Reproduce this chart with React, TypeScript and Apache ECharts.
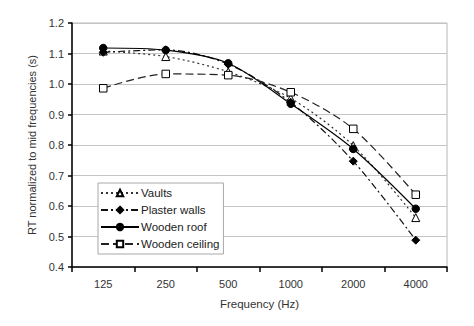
import React, { useEffect, useRef } from "react";
import * as echarts from "echarts";

const categories = ["125", "250", "500", "1000", "2000", "4000"];
const vaults = [1.108, 1.09, 1.04, 0.953, 0.798, 0.562];
const plasterWalls = [1.104, 1.112, 1.065, 0.94, 0.747, 0.488];
const woodenRoof = [1.118, 1.111, 1.068, 0.935, 0.787, 0.591];
const woodenCeiling = [0.986, 1.033, 1.029, 0.973, 0.853, 0.637];

const FONT = "Liberation Sans, Arial, sans-serif";

export default function App() {
  const ref = useRef<HTMLDivElement>(null);
  useEffect(() => {
    if (!ref.current) return;
    const chart = echarts.init(ref.current, undefined, { renderer: "svg" });
    const mk = (name: string, data: number[], symbol: string, fill: string, lineType: any, color: string, width: number) => ({
      name,
      type: "line",
      data,
      smooth: 0.3,
      symbol,
      symbolSize: symbol === "diamond" ? 8 : symbol === "triangle" ? 8 : 7.5,
      itemStyle: { color: fill, borderColor: "#000", borderWidth: 1 },
      lineStyle: { color, width, type: lineType },
      emphasis: { disabled: true },
    });
    chart.setOption({
      animation: false,
      textStyle: { fontFamily: FONT },
      grid: {
        left: 72,
        right: 27,
        top: 23,
        bottom: 59,
        show: true,
        borderColor: "#b8b8b8",
        borderWidth: 1,
      },
      legend: {
        orient: "vertical",
        left: 98,
        top: 183,
        padding: [4, 4, 4, 2],
        itemGap: 5,
        itemWidth: 38,
        itemHeight: 8,
        backgroundColor: "#fff",
        borderColor: "#a8a8a8",
        borderWidth: 1,
        borderRadius: 0,
        textStyle: { fontFamily: FONT, fontSize: 11.5, color: "#222", padding: [0, 0, 0, -3] },
        data: ["Vaults", "Plaster walls", "Wooden roof", "Wooden ceiling"],
      },
      xAxis: {
        type: "category",
        data: categories,
        boundaryGap: true,
        name: "Frequency (Hz)",
        nameLocation: "middle",
        nameGap: 31,
        nameTextStyle: { fontFamily: FONT, fontSize: 11.5, color: "#333" },
        axisLine: { lineStyle: { color: "#000", width: 1.5 } },
        axisTick: { show: true, inside: false, length: 5, lineStyle: { color: "#000", width: 1.5 } },
        axisLabel: { fontFamily: FONT, fontSize: 11, color: "#333", margin: 11 },
        splitLine: { show: false },
      },
      yAxis: {
        type: "value",
        min: 0.4,
        max: 1.2,
        interval: 0.1,
        name: "RT normalized to mid frequencies (s)",
        nameLocation: "middle",
        nameGap: 34,
        nameTextStyle: { fontFamily: FONT, fontSize: 11, color: "#333" },
        axisLine: { show: true, lineStyle: { color: "#000", width: 1.5 } },
        axisTick: { show: true, inside: false, length: 4, lineStyle: { color: "#000", width: 1.5 } },
        axisLabel: {
          fontFamily: FONT,
          fontSize: 11,
          color: "#333",
          margin: 8,
          formatter: (v: number) => v.toFixed(1),
        },
        splitLine: { show: true, lineStyle: { color: "#c4c4c4", width: 1 } },
      },
      series: [
        mk("Vaults", vaults, "triangle", "#fff", [2, 3], "#333", 1.2),
        mk("Plaster walls", plasterWalls, "diamond", "#000", [7, 3, 2, 3], "#111", 1.2),
        mk("Wooden roof", woodenRoof, "circle", "#000", "solid", "#000", 1.2),
        mk("Wooden ceiling", woodenCeiling, "rect", "#fff", [8, 4], "#222", 1.2),
      ],
    });
    return () => chart.dispose();
  }, []);
  return (
    <div
      ref={ref}
      style={{ position: "fixed", left: 0, top: 0, width: 474, height: 326, background: "#fff" }}
    />
  );
}
